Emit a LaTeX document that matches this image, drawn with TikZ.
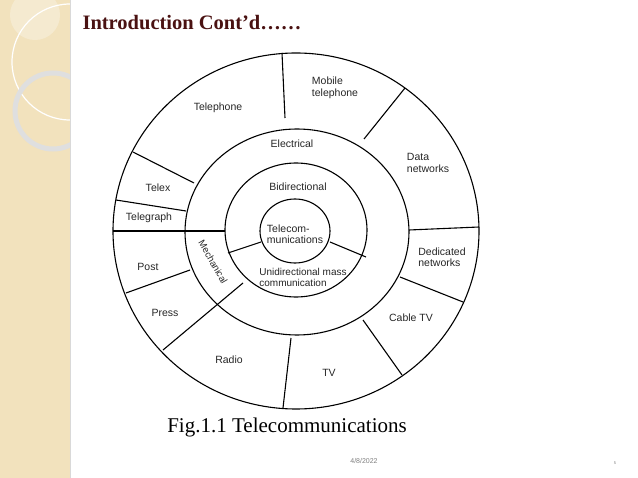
\documentclass[tikz,border=0pt]{standalone}
\usepackage{fontspec}
\setmainfont{Liberation Serif}
\newfontfamily\diagfont{Liberation Sans}
\usetikzlibrary{positioning,calc}
\definecolor{strip}{HTML}{F2E2BD}
\definecolor{titlered}{HTML}{4A1212}
\tikzset{
  seg/.style={font=\diagfont\fontsize{10.5}{11.5}\selectfont, align=center, inner sep=1pt, text=black!85},
  ring/.style={line width=1.1pt},
  cut/.style={line width=1.1pt}
}
\begin{document}
\begin{tikzpicture}[x=1pt,y=-1pt]
  \useasboundingbox (0,0) rectangle (638,478);
  \fill[white] (0,0) rectangle (638,478);
  % left strip
  \fill[strip] (0,0) rectangle (70,478);
  \begin{scope}
    \clip (0,0) rectangle (70,478);
    \fill[white,opacity=0.3] (35,15) circle (25);
    \draw[white,line width=1.2pt] (70,62) circle (58);
    \draw[gray!25,line width=5pt] (53,111) circle (38);
  \end{scope}
  \draw[gray!30] (70,0) -- (70,478);
  % title
  \node[anchor=west, font=\bfseries\fontsize{20.5}{22}\selectfont, text=titlered] (title) at (79,23) {Introduction Cont’d……};
  % rings
  \draw[ring] (296,231) ellipse (183 and 178);
  \draw[ring] (297,232) ellipse (112 and 103);
  \draw[ring] (296,230) ellipse (71 and 67);
  \draw[ring] (295,231) ellipse (35 and 32);
  % outer cuts
  \draw[cut] (285,118) -- (282,53);
  \draw[cut] (364,139) -- (405,88);
  \draw[cut] (409,230) -- (479,227);
  \draw[cut] (400,277) -- (463,302);
  \draw[cut] (363,320) -- (402,375);
  \draw[cut] (291,338) -- (283,408);
  \draw[cut] (243,283) -- (163,350);
  \draw[cut] (190,270) -- (126,293);
  \draw[cut] (113,231) -- (225,231);
  \draw[cut] (116,200) -- (186,211);
  \draw[cut] (133,152) -- (194,183);
  % inner cuts
  \draw[cut] (228,253) -- (261,242);
  \draw[cut] (330,242) -- (366,257);
  % labels
  \node[seg] (telephone) at (218,108) {Telephone};
  \node[seg, align=left] (mobile) at (335,88) {Mobile\\telephone};
  \node[seg, align=left] (data) at (428,163) {Data\\networks};
  \node[seg, align=left] (dedicated) at (442,257) {Dedicated\\networks};
  \node[seg] (cable) at (411,318) {Cable TV};
  \node[seg] (tv) at (329,373) {TV};
  \node[seg] (radio) at (229,360) {Radio};
  \node[seg] (press) at (165,313) {Press};
  \node[seg] (post) at (148,267) {Post};
  \node[seg] (telegraph) at (149,218) {Telegraph};
  \node[seg] (telex) at (158,188) {Telex};
  \node[seg] (electrical) at (292,144) {Electrical};
  \node[seg] (bidir) at (298,187) {Bidirectional};
  \node[seg, align=left] (telecom) at (295,234) {Telecom-\\munications};
  \node[seg, font=\diagfont\fontsize{10}{11}\selectfont, align=left] (unidir) at (303,277) {Unidirectional mass\\communication};
  \node[seg, font=\diagfont\fontsize{9.5}{10}\selectfont, rotate=-60] (mech) at (213,262) {Mechanical};
  % caption and footer
  \node[font=\fontsize{21}{23}\selectfont] (caption) at (287,427) {Fig.1.1 Telecommunications};
  \node[font=\diagfont\fontsize{7}{8}\selectfont, text=gray] (date) at (364,461) {4/8/2022};
  \node[font=\diagfont\fontsize{4}{5}\selectfont, text=gray] (page) at (615,463) {5};
\end{tikzpicture}
\end{document}
